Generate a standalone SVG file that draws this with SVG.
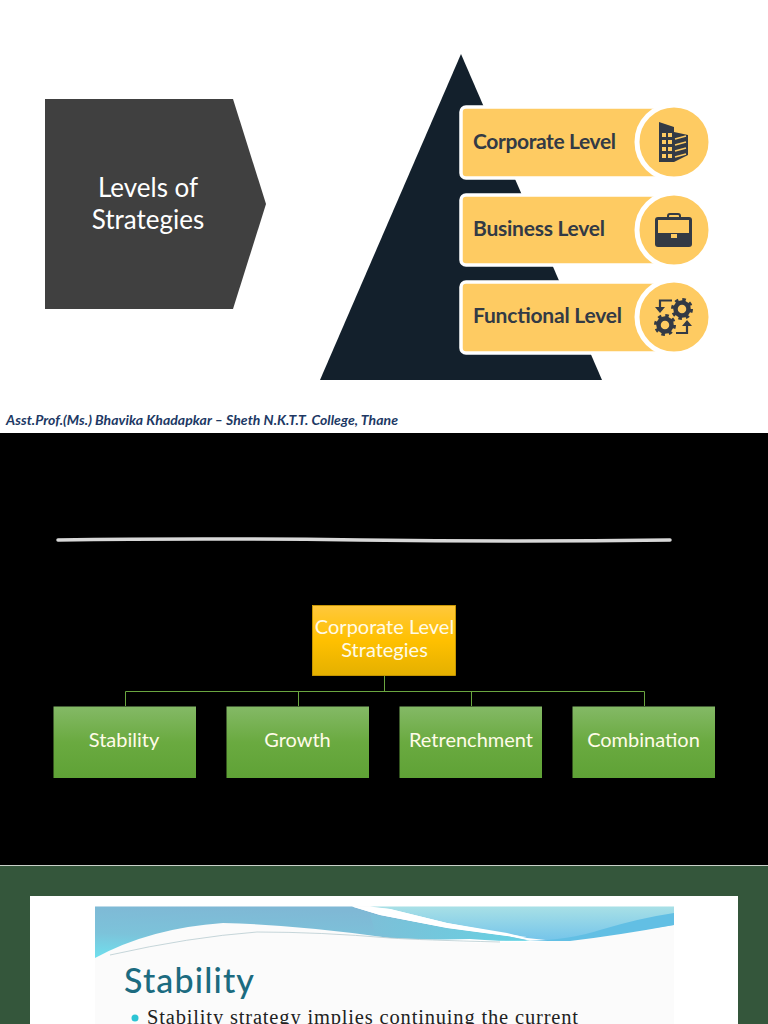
<svg xmlns="http://www.w3.org/2000/svg" width="768" height="1024" viewBox="0 0 768 1024">
<style>
.c{font-family:Lato,"Liberation Sans",sans-serif;text-anchor:middle;fill:#fff}
.sm{font-size:20px;fill:#fffbe8}
.lv{font-family:Lato,"Liberation Sans",sans-serif;font-size:21px;font-weight:700;fill:#333a45}
.ic{fill:#333a45}
.bar{fill:#fecb62;stroke:#fff;stroke-width:3.5}
.cir{fill:#fecb62;stroke:#fff;stroke-width:5}
.g{fill:url(#gr)}
.cn{fill:none;stroke:#6aa640;stroke-width:1}
</style>
<defs>
<linearGradient id="gr" x1="0" y1="0" x2="0" y2="1"><stop offset="0" stop-color="#84b966"/><stop offset=".5" stop-color="#6aaa40"/><stop offset="1" stop-color="#5fa236"/></linearGradient>
<linearGradient id="yl" x1="0" y1="0" x2="0" y2="1"><stop offset="0" stop-color="#ffc83c"/><stop offset=".5" stop-color="#ffc000"/><stop offset="1" stop-color="#e4b000"/></linearGradient>
<linearGradient id="ban" x1="0" y1="1" x2=".3" y2="0"><stop offset="0" stop-color="#6fe0ee"/><stop offset=".45" stop-color="#7cc3da"/><stop offset="1" stop-color="#7fb8d5"/></linearGradient>
<linearGradient id="ban2" x1="0" y1="0" x2="0" y2="1"><stop offset="0" stop-color="#a8e0e6"/><stop offset="1" stop-color="#74c4ea"/></linearGradient>
<linearGradient id="ban3" x1="0" y1="0" x2="1" y2="0"><stop offset="0" stop-color="#7cc0d8"/><stop offset="1" stop-color="#62d4e4"/></linearGradient>
</defs>
<rect width="768" height="433" fill="#fff"/>
<rect y="433" width="768" height="433" fill="#000"/>
<rect y="866" width="768" height="158" fill="#34563b"/>
<rect y="865" width="768" height="1" fill="#c8d0c8"/>

<g id="levels-of-strategies">
<polygon points="45,99 233,99 266,204 233,309 45,309" fill="#404040"/>
<text class="c" font-size="26"><tspan x="148" y="197">Levels of</tspan><tspan x="148" y="229">Strategies</tspan></text>
</g>
<g id="pyramid"><polygon points="461,54 602,380 320,380" fill="#13202c"/></g>
<g id="corporate-level">
<rect class="bar" x="461" y="107" width="200" height="71" rx="5"/>
<circle class="cir" cx="674" cy="142" r="37"/>
<text class="lv" x="473" y="149" textLength="143">Corporate Level</text>
<path class="ic" d="M659,122 L674,127 V162 H659Z M674,132 L688,135 V155 L674,162Z"/>
<g fill="#fecb62"><rect x="662" y="133" width="4" height="4"/><rect x="668" y="133" width="4" height="4"/><rect x="662" y="140" width="4" height="4"/><rect x="668" y="140" width="4" height="4"/><rect x="662" y="147" width="4" height="4"/><rect x="668" y="147" width="4" height="4"/><rect x="662" y="154" width="4" height="4"/><rect x="668" y="154" width="4" height="4"/></g>
<path d="M675,139 L686,136 M675,145 L686,142 M675,151 L686,148 M675,157 L686,154" stroke="#fecb62" stroke-width="1.5"/>
</g>
<g id="business-level">
<rect class="bar" x="461" y="195" width="200" height="70" rx="5"/>
<circle class="cir" cx="674" cy="230" r="37"/>
<text class="lv" x="473" y="236" textLength="132">Business Level</text>
<path d="M668,218 V216 Q668,214 670,214 H678 Q680,214 680,216 V218" fill="none" stroke="#333a45" stroke-width="2"/>
<path class="ic" d="M658,217 H689 Q692,217 692,220 V244 Q692,247 689,247 H658 Q655,247 655,244 V220 Q655,217 658,217Z"/>
<rect x="658" y="220" width="31" height="13" fill="#fecb62"/>
<rect x="671" y="234" width="6" height="4" fill="#fecb62"/>
</g>
<g id="functional-level">
<rect class="bar" x="461" y="282" width="200" height="71" rx="5"/>
<circle class="cir" cx="674" cy="317" r="37"/>
<text class="lv" x="473" y="323" textLength="149">Functional Level</text>
<circle cx="682" cy="309" r="6.500" fill="none" stroke="#333a45" stroke-width="4.500"/>
<circle cx="682" cy="309" r="9.500" fill="none" stroke="#333a45" stroke-width="3" stroke-dasharray="3.500 3.960"/>
<circle cx="665" cy="325" r="6.500" fill="none" stroke="#333a45" stroke-width="4.500"/>
<circle cx="665" cy="325" r="9.500" fill="none" stroke="#333a45" stroke-width="3" stroke-dasharray="3.500 3.960"/>
<path d="M672,300.500 H660 V308 M676,333 H687 V325" fill="none" stroke="#333a45" stroke-width="2.200"/>
<path class="ic" d="M655,307 H665 L660,313Z M682,326 H692 L687,320Z"/>
</g>
<g id="credit"><text x="6" y="425" font-family="Lato,Liberation Sans,sans-serif" font-size="14" font-style="italic" font-weight="700" fill="#203864" textLength="392">Asst.Prof.(Ms.) Bhavika Khadapkar – Sheth N.K.T.T. College, Thane</text></g>

<g id="rule"><path d="M58,540 Q200,538 360,540 T670,540" stroke="#d8d8d8" stroke-width="3.500" fill="none" stroke-linecap="round"/></g>
<g id="connectors">
<path class="cn" d="M384.500,676 V691 M125.500,706 V691.500 H644.500 V706 M298.500,691 V706 M471.500,691 V706"/>
</g>
<g id="corporate-strategies">
<rect x="312.500" y="605.500" width="143" height="70" fill="url(#yl)" stroke="#d9a400" stroke-width=".8"/>
<text class="c sm"><tspan x="384.500" y="634">Corporate Level</tspan><tspan x="384.500" y="657">Strategies</tspan></text>
</g>
<g id="stability"><rect class="g" x="53.500" y="706.500" width="142.500" height="71.500"/><text class="c sm" x="124" y="747">Stability</text></g>
<g id="growth"><rect class="g" x="226.500" y="706.500" width="142.500" height="71.500"/><text class="c sm" x="297.500" y="747">Growth</text></g>
<g id="retrenchment"><rect class="g" x="399.500" y="706.500" width="142.500" height="71.500"/><text class="c sm" x="471" y="747">Retrenchment</text></g>
<g id="combination"><rect class="g" x="572.500" y="706.500" width="142.500" height="71.500"/><text class="c sm" x="643.500" y="747">Combination</text></g>

<rect x="30" y="896" width="708" height="128" fill="#fff"/>
<rect x="95" y="906" width="579" height="118" fill="#fbfbfb"/>
<path d="M95,906.500 H674 V925 Q620,935 560,941 Q480,944 390,938 Q300,925 223,923 Q150,928 95,958Z" fill="#fff"/>
<path d="M95,906.500 H352 L380,915 L447,928 L507,936 L527,940 Q450,940 390,938 Q300,925 223,923 Q150,928 95,958Z" fill="url(#ban)"/>
<path d="M370,914 L447,928 L507,936 L530,941 Q450,941 395,938 L375,932Z" fill="url(#ban3)" opacity=".85"/>
<path d="M370,906.500 H674 V925 Q610,935 555,941 L527,938 L507,933 L447,923 L390,909Z" fill="url(#ban2)"/>
<path d="M527,941 Q570,940 600,930 Q640,918 674,913 V925 Q620,935 570,941Z" fill="#62bfe4"/>
<path d="M352,906.500 L380,908 L390,909 L447,923 L507,934 L527,937 L507,936 L447,928 L380,915Z" fill="#fff"/>
<path d="M420,940 Q470,944 515,942 L470,939Z" fill="#fff"/>
<path d="M110,955 Q190,937 257,932 Q320,932 390,938 Q420,940 500,942" fill="none" stroke="#b8ccd0" stroke-width=".8"/>
<text x="124" y="993" font-family="Lato,Liberation Sans,sans-serif" font-size="34" font-weight="500" fill="#1c6b80" textLength="130">Stability</text>
<circle cx="135" cy="1018" r="3.500" fill="#2cc4d4"/>
<text x="147" y="1024" font-family="Liberation Serif,serif" font-size="20.500" fill="#222" textLength="431">Stability strategy implies continuing the current</text>
</svg>
